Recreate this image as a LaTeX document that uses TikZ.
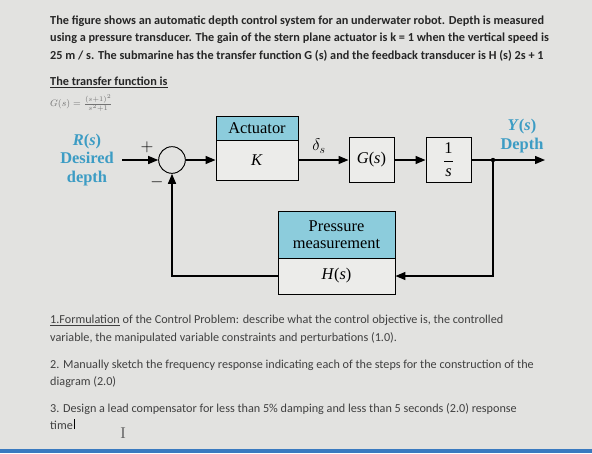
\documentclass[tikz,border=0pt]{standalone}
\usepackage{fontspec}
\setmainfont{Liberation Serif}
\newfontfamily\calibri{Carlito}
\usetikzlibrary{arrows.meta, positioning}
\definecolor{headblue}{HTML}{8CCCDC}
\definecolor{labelblue}{HTML}{3C9CC4}
\definecolor{screen}{HTML}{E2E2E0}
\definecolor{boxfill}{HTML}{ECECEA}
\definecolor{taskbar}{HTML}{3A7AC0}

\begin{document}
\begin{tikzpicture}[x=0.3mm, y=-0.3mm,
    every node/.style={inner sep=0pt},
    para/.style={anchor=base west, font=\calibri\bfseries\fontsize{10.45}{12}\selectfont, text=black!85},
    task/.style={anchor=base west, font=\calibri\fontsize{10.4}{12}\selectfont, text=black!75},
    head/.style={draw, line width=0.8pt, fill=headblue, font=\fontsize{14}{15}\selectfont, align=center},
    block/.style={draw, line width=0.8pt, fill=boxfill, font=\fontsize{14}{15}\selectfont},
    lbl/.style={text=labelblue, font=\bfseries\fontsize{14}{15.5}\selectfont},
    sig/.style={line width=1.2pt, -{Triangle[length=3mm, width=2.4mm]}}]

    % screen
    \fill[screen] (0,0) rectangle (592,453);
    \useasboundingbox (0,0) rectangle (592,453);
    \fill[taskbar] (0,449) rectangle (592,453);

    % problem statement
    \node[para] (l1) at (50,24) {The figure shows an automatic depth control system for an underwater robot. Depth is measured};
    \node[para] (l2) at (50,41) {using a pressure transducer. The gain of the stern plane actuator is k = 1 when the vertical speed is};
    \node[para] (l3) at (50,59) {25 m / s. The submarine has the transfer function G (s) and the feedback transducer is H (s) 2s + 1};
    \node[para] (tf) at (50,85) {\underline{The transfer function is}};
    \node[anchor=west, text=black!55, font=\fontsize{8}{9}\selectfont] (gs) at (50,103) {$G(s)=\frac{(s+1)^2}{s^2+1}$};

    % blocks
    \node[head, minimum width=24.6mm, minimum height=7.2mm] (acthead) at (257,128) {Actuator};
    \node[block, minimum width=24.6mm, minimum height=12mm] (actbody) at (257,160) {\textit{K}};
    \node[block, minimum width=13.5mm, minimum height=13.5mm] (gblk) at (371.5,160) {\textit{G}(\textit{s})};
    \node[block, minimum width=13.5mm, minimum height=13.5mm] (intblk) at (448.5,160) {$\displaystyle\frac{\mbox{1}}{\mbox{\itshape s}}$};
    \node[head, minimum width=35.1mm, minimum height=14.1mm] (phead) at (336.5,234.5) {Pressure\\measurement};
    \node[block, minimum width=35.1mm, minimum height=10.8mm] (hbody) at (336.5,276) {\textit{H}(\textit{s})};
    \node[draw, circle, line width=0.8pt, minimum size=8mm] (sum) at (172,160) {};

    % labels
    \node[lbl, align=center] (rin) at (87,160) {\textit{R}(\textit{s})\\Desired\\depth};
    \node[lbl, align=center] (yout) at (522,136) {\textit{Y}(\textit{s})\\Depth};
    \node[font=\fontsize{14}{15}\selectfont] (plus) at (147,147) {$+$};
    \node[font=\fontsize{14}{15}\selectfont] (minus) at (157,182) {$-$};
    \node[font=\fontsize{14}{15}\selectfont] (ds) at (319,146) {$\delta_s$};

    % signals
    \coordinate (rstart) at (122,160);
    \coordinate (yend) at (545,160);
    \coordinate (pick) at (493,160);
    \draw[sig] (rstart) -- (sum);
    \draw[sig] (sum) -- (actbody);
    \draw[sig] (actbody) -- (gblk);
    \draw[sig] (gblk) -- (intblk);
    \draw[sig] (intblk) -- (yend);
    \fill (pick) circle (2.2);
    \draw[sig] (pick) |- (hbody);
    \draw[sig] (hbody) -| (sum);

    % questions
    \node[task] (q1) at (50,323) {\underline{1.Formulation} of the Control Problem: describe what the control objective is, the controlled};
    \node[task] (q1b) at (50,341) {variable, the manipulated variable constraints and perturbations (1.0).};
    \node[task] (q2) at (50,368) {2. Manually sketch the frequency response indicating each of the steps for the construction of the};
    \node[task] (q2b) at (50,385) {diagram (2.0)};
    \node[task] (q3) at (50,412) {3. Design a lead compensator for less than 5\% damping and less than 5 seconds (2.0) response};
    \node[task] (q3b) at (50,429) {time};
    \draw[line width=0.5pt] (q3b.base east) ++(1.5,0) -- ++(0,-10);
    \node[text=black!60, font=\fontsize{14}{15}\selectfont] (cursor) at (123,433) {I};
\end{tikzpicture}
\end{document}
